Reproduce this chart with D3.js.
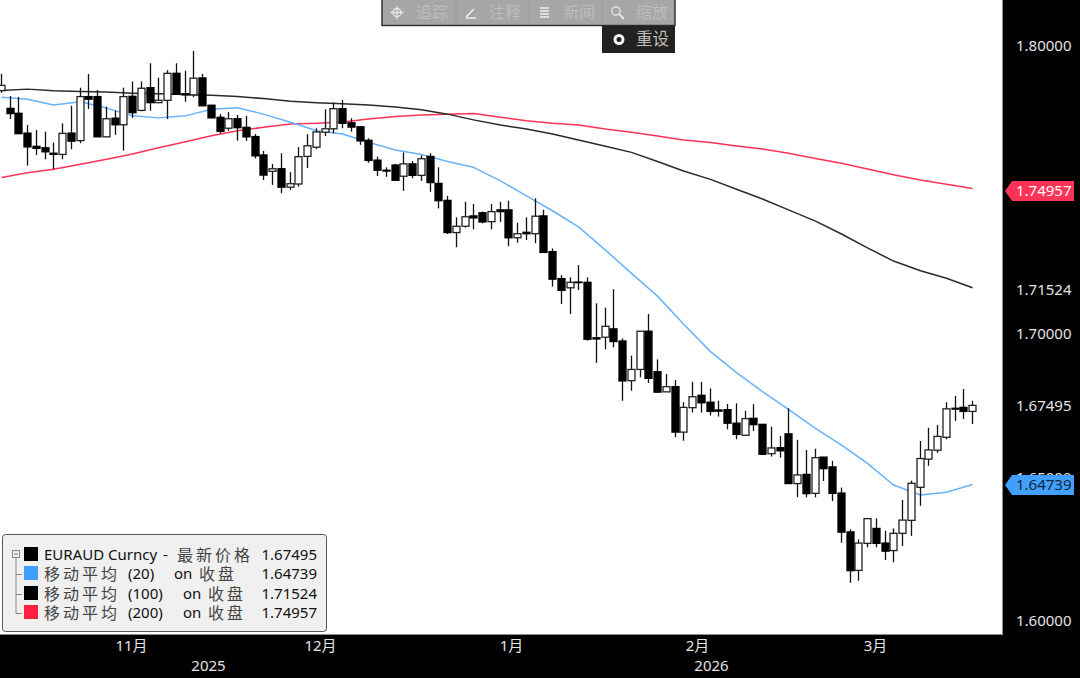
<!DOCTYPE html>
<html>
<head>
<meta charset="utf-8">
<script src="https://cdn.jsdelivr.net/npm/d3@7"></script>
<style>
  body { margin: 0; background: #000; }
  svg { display: block; }
  text { font-family: "Noto Sans", "Noto Sans CJK SC", sans-serif; }
</style>
</head>
<body>
<svg class="chart"></svg>
<script>
const svgWidth = 1080;
const svgHeight = 678;

// daily EURAUD candles, oldest first
const openPx = [
  1.7845, 1.7783, 1.7766, 1.7697, 1.7651, 1.7646, 1.7627, 1.7623, 1.7697, 1.7671,
  1.7824, 1.7824, 1.7684, 1.7749, 1.7726, 1.7825, 1.7776, 1.7855, 1.7803, 1.7811,
  1.7905, 1.7834, 1.7830, 1.7889, 1.7794, 1.7752, 1.7714, 1.7747, 1.7717, 1.7685,
  1.7621, 1.7564, 1.7573, 1.7509, 1.7520, 1.7616, 1.7648, 1.7700, 1.7712, 1.7782,
  1.7733, 1.7719, 1.7672, 1.7603, 1.7568, 1.7586, 1.7547, 1.7590, 1.7550, 1.7616,
  1.7522, 1.7463, 1.7351, 1.7373, 1.7409, 1.7420, 1.7389, 1.7430, 1.7430, 1.7333,
  1.7352, 1.7347, 1.7409, 1.7285, 1.7191, 1.7159, 1.7179, 1.7178, 1.6985, 1.6987,
  1.7016, 1.6974, 1.6836, 1.6875, 1.7008, 1.6867, 1.6797, 1.6815, 1.6657, 1.6742,
  1.6785, 1.6761, 1.6734, 1.6735, 1.6688, 1.6646, 1.6705, 1.6684, 1.6582, 1.6603,
  1.6651, 1.6478, 1.6510, 1.6444, 1.6570, 1.6536, 1.6445, 1.6310, 1.6176, 1.6270,
  1.6322, 1.6271, 1.6245, 1.6305, 1.6350, 1.6465, 1.6563, 1.6594, 1.6639, 1.6740,
  1.6743, 1.6729
];
const highPx = [
  1.7903, 1.7826, 1.7823, 1.7725, 1.7708, 1.7702, 1.7664, 1.7731, 1.7792, 1.7855,
  1.7903, 1.7847, 1.7789, 1.7775, 1.7855, 1.7877, 1.7877, 1.7940, 1.7890, 1.7916,
  1.7940, 1.7914, 1.7983, 1.7903, 1.7795, 1.7763, 1.7770, 1.7760, 1.7757, 1.7694,
  1.7635, 1.7590, 1.7627, 1.7561, 1.7648, 1.7693, 1.7714, 1.7780, 1.7803, 1.7812,
  1.7749, 1.7719, 1.7679, 1.7615, 1.7578, 1.7590, 1.7630, 1.7600, 1.7620, 1.7627,
  1.7578, 1.7479, 1.7404, 1.7458, 1.7450, 1.7424, 1.7450, 1.7458, 1.7462, 1.7385,
  1.7404, 1.7470, 1.7430, 1.7296, 1.7203, 1.7195, 1.7238, 1.7195, 1.7105, 1.7090,
  1.7154, 1.6983, 1.6923, 1.7008, 1.7068, 1.6910, 1.6859, 1.6838, 1.6761, 1.6832,
  1.6832, 1.6809, 1.6766, 1.6755, 1.6757, 1.6731, 1.6754, 1.6685, 1.6676, 1.6643,
  1.6740, 1.6630, 1.6595, 1.6599, 1.6571, 1.6557, 1.6464, 1.6319, 1.6284, 1.6357,
  1.6357, 1.6314, 1.6322, 1.6421, 1.6488, 1.6626, 1.6672, 1.6682, 1.6761, 1.6783,
  1.6807, 1.6766
];
const lowPx = [
  1.7837, 1.7746, 1.7694, 1.7584, 1.7621, 1.7606, 1.7572, 1.7606, 1.7641, 1.7662,
  1.7781, 1.7683, 1.7683, 1.7691, 1.7636, 1.7750, 1.7773, 1.7775, 1.7801, 1.7746,
  1.7832, 1.7806, 1.7822, 1.7792, 1.7749, 1.7696, 1.7705, 1.7671, 1.7670, 1.7609,
  1.7534, 1.7517, 1.7488, 1.7499, 1.7511, 1.7576, 1.7641, 1.7687, 1.7696, 1.7714,
  1.7702, 1.7656, 1.7594, 1.7548, 1.7545, 1.7531, 1.7496, 1.7540, 1.7531, 1.7493,
  1.7435, 1.7346, 1.7300, 1.7368, 1.7362, 1.7383, 1.7362, 1.7388, 1.7304, 1.7316,
  1.7325, 1.7314, 1.7282, 1.7163, 1.7103, 1.7068, 1.7151, 1.6975, 1.6898, 1.6945,
  1.6952, 1.6766, 1.6801, 1.6848, 1.6828, 1.6795, 1.6797, 1.6639, 1.6627, 1.6725,
  1.6725, 1.6715, 1.6711, 1.6667, 1.6632, 1.6645, 1.6661, 1.6577, 1.6572, 1.6568,
  1.6478, 1.6431, 1.6430, 1.6430, 1.6487, 1.6417, 1.6272, 1.6133, 1.6140, 1.6256,
  1.6256, 1.6212, 1.6204, 1.6261, 1.6296, 1.6401, 1.6540, 1.6585, 1.6632, 1.6696,
  1.6703, 1.6685
];
const closePx = [
  1.7863, 1.7765, 1.7695, 1.7649, 1.7644, 1.7632, 1.7623, 1.7696, 1.7669, 1.7824,
  1.7815, 1.7684, 1.7747, 1.7726, 1.7824, 1.7768, 1.7853, 1.7803, 1.7811, 1.7905,
  1.7832, 1.7830, 1.7888, 1.7792, 1.7750, 1.7703, 1.7747, 1.7716, 1.7684, 1.7618,
  1.7551, 1.7573, 1.7509, 1.7521, 1.7615, 1.7653, 1.7701, 1.7712, 1.7782, 1.7731,
  1.7718, 1.7670, 1.7602, 1.7568, 1.7565, 1.7533, 1.7590, 1.7550, 1.7608, 1.7525,
  1.7462, 1.7351, 1.7373, 1.7406, 1.7402, 1.7388, 1.7424, 1.7424, 1.7333, 1.7347,
  1.7347, 1.7408, 1.7282, 1.7189, 1.7150, 1.7178, 1.7177, 1.6980, 1.6981, 1.7025,
  1.6972, 1.6835, 1.6875, 1.7008, 1.6844, 1.6796, 1.6815, 1.6657, 1.6743, 1.6780,
  1.6759, 1.6729, 1.6730, 1.6688, 1.6649, 1.6704, 1.6683, 1.6580, 1.6602, 1.6592,
  1.6478, 1.6508, 1.6443, 1.6568, 1.6530, 1.6444, 1.6309, 1.6175, 1.6271, 1.6356,
  1.6270, 1.6243, 1.6305, 1.6351, 1.6479, 1.6565, 1.6595, 1.6642, 1.6738, 1.6737,
  1.6729, 1.6750
];

// moving averages read every third session
const maIndex = [
  0, 3, 6, 9, 12, 15, 18, 21, 24, 27, 30, 33, 36, 39, 42, 45, 48, 51, 54,
  57, 60, 63, 66, 69, 72, 75, 78, 81, 84, 87, 90, 93, 96, 99, 102, 105, 108, 111
];
const ma20 = [
  1.7822, 1.7815, 1.7795, 1.7806, 1.7784, 1.7757, 1.7750, 1.7757, 1.7780, 1.7785,
  1.7763, 1.7735, 1.7705, 1.7694, 1.7665, 1.7638, 1.7623, 1.7598, 1.7578,
  1.7531, 1.7479, 1.7427, 1.7371, 1.7290, 1.7209, 1.7130, 1.7033, 1.6937, 1.6864,
  1.6798, 1.6736, 1.6670, 1.6612, 1.6548, 1.6473, 1.6438, 1.6448, 1.6475
];
const ma100 = [
  1.7845, 1.7850, 1.7844, 1.7842, 1.7840, 1.7836, 1.7834, 1.7831, 1.7829, 1.7824,
  1.7817, 1.7808, 1.7803, 1.7799, 1.7795, 1.7788, 1.7778, 1.7763, 1.7743,
  1.7725, 1.7711, 1.7694, 1.7673, 1.7651, 1.7630, 1.7598, 1.7565, 1.7536, 1.7502,
  1.7468, 1.7430, 1.7391, 1.7346, 1.7298, 1.7252, 1.7218, 1.7192, 1.7159
];
const ma200 = [
  1.7543, 1.7559, 1.7571, 1.7589, 1.7606, 1.7624, 1.7646, 1.7667, 1.7688, 1.7705,
  1.7717, 1.7729, 1.7731, 1.7736, 1.7746, 1.7755, 1.7760, 1.7763, 1.7765,
  1.7752, 1.7740, 1.7731, 1.7725, 1.7711, 1.7700, 1.7687, 1.7673, 1.7664, 1.7652,
  1.7642, 1.7627, 1.7609, 1.7592, 1.7572, 1.7552, 1.7534, 1.7519, 1.7504
];

const priceTicks = [1.6, 1.65, 1.7, 1.8];
const monthIndex = [14.9, 36.5, 58.3, 79.6, 99.9];
const monthLabels = ["11月", "12月", "1月", "2月", "3月"];
const yearIndex = [23.7, 81.2];
const yearLabels = ["2025", "2026"];

const lastPrice = 1.67495;
const lastMa20 = 1.64739;
const lastMa100 = 1.71524;
const lastMa200 = 1.74957;

const blue = "#66b2ff";
const red = "#ff3355";
const dark = "#2a2a2a";

var margin = { top: 0, right: 77, bottom: 43, left: 0 };
var plotRight = svgWidth - margin.right;
var plotBottom = svgHeight - margin.bottom;

const svg = d3.select(".chart")
  .attr("width", svgWidth)
  .attr("height", svgHeight);

svg.append("rect")
  .attr("width", plotRight)
  .attr("height", plotBottom)
  .attr("fill", "#fff");

svg.append("path")
  .attr("d", `M${plotRight - 0.5},0V${plotBottom - 0.5}H0`)
  .attr("fill", "none")
  .attr("stroke", "#8c8c8c");

// 1.80 sits at y=46 and 1.60 at y=621
var x = d3.scaleLinear().domain([0, openPx.length - 1]).rangeRound([1, 972]);
var y = d3.scaleLinear().domain([1.6, 1.8]).range([621, 46]);

// moving averages go under the candles
var maLine = d3.line()
  .x(function(d, i) { return x(maIndex[i]) + 0.5; })
  .y(function(d) { return y(d); });

[[ma200, red], [ma100, dark], [ma20, blue]].forEach(function(m) {
  svg.append("path")
    .datum(m[0])
    .attr("fill", "none")
    .attr("stroke", m[1])
    .attr("stroke-width", 1.5)
    .attr("stroke-linejoin", "round")
    .attr("d", maLine);
});

// candles
const candle = svg.append("g")
  .selectAll("g")
  .data(openPx.map(function(d, i) {
    return { i: i, o: d, h: highPx[i], l: lowPx[i], c: closePx[i] };
  }))
  .join("g")
    .attr("transform", function(d) { return `translate(${x(d.i) + 0.5},0)`; });

candle.append("line")
  .attr("y1", function(d) { return y(d.h); })
  .attr("y2", function(d) { return y(d.l); })
  .attr("stroke", "#111")
  .attr("stroke-width", 1.3);

candle.append("rect")
  .attr("x", -3.5)
  .attr("width", 7)
  .attr("y", function(d) { return y(Math.max(d.o, d.c)); })
  .attr("height", function(d) { return Math.max(0.6, Math.abs(y(d.o) - y(d.c))); })
  .attr("fill", function(d) { return d.c > d.o ? "#fff" : "#000"; })
  .attr("stroke", function(d) { return d.c > d.o ? "#222" : "#000"; })
  .attr("stroke-width", 1.3);

// price axis
const yAxis = svg.append("g")
  .attr("transform", `translate(${plotRight},0)`)
  .call(d3.axisRight(y).tickValues(priceTicks.concat([lastMa100, lastPrice])).tickFormat(d3.format(".5f")).tickSize(0).tickPadding(13));
yAxis.select(".domain").remove();
yAxis.selectAll("text")
  .attr("font-size", 15)
  .attr("font-family", null)
  .attr("fill", "#e4e4e4");

// last value tags
[[lastMa200, red, "#fff"], [lastMa20, "#41a0ff", "#10243a"]].forEach(function(t) {
  var ty = Math.round(y(t[0]));
  svg.append("path")
    .attr("d", `M1005,${ty}L1012,${ty - 10}H1074V${ty + 10}H1012Z`)
    .attr("fill", t[1]);
  svg.append("text")
    .attr("x", 1016)
    .attr("y", ty)
    .attr("dy", "0.35em")
    .attr("font-size", 15)
    .attr("fill", t[2])
    .text(d3.format(".5f")(t[0]));
});

// time axis, months on the first row and years under them
const monthAxis = svg.append("g")
  .attr("transform", `translate(0,${plotBottom})`)
  .call(d3.axisBottom(x).tickValues(monthIndex)
    .tickFormat(function(d, i) { return monthLabels[i]; }).tickSize(0).tickPadding(5));
const yearAxis = svg.append("g")
  .attr("transform", `translate(0,${plotBottom + 20})`)
  .call(d3.axisBottom(x).tickValues(yearIndex)
    .tickFormat(function(d, i) { return yearLabels[i]; }).tickSize(0).tickPadding(5));
[monthAxis, yearAxis].forEach(function(a) {
  a.select(".domain").remove();
  a.selectAll("text")
    .attr("font-size", 15)
    .attr("font-family", null)
    .attr("fill", "#e4e4e4");
});

// legend
const legend = svg.append("g");
legend.append("rect")
  .attr("x", 2.5).attr("y", 534.5)
  .attr("width", 324).attr("height", 97)
  .attr("rx", 3)
  .attr("fill", "#f0f0f0")
  .attr("stroke", "#555");

legend.append("rect")
  .attr("x", 12.5).attr("y", 550.5)
  .attr("width", 7).attr("height", 7)
  .attr("fill", "#eee").attr("stroke", "#888");
legend.append("path")
  .attr("d", "M14,554H18M16,558V613.5H22M16,574.5H22M16,594.5H22")
  .attr("fill", "none").attr("stroke", "#888");

const legendRows = [
  { y: 555, color: "#000", value: lastPrice, parts: [["EURAUD Curncy", 44], ["-", 163], ["最新价格", 177]] },
  { y: 574, color: "#3f9fff", value: lastMa20, parts: [["移动平均", 44], ["(20)", 128], ["on", 174], ["收盘", 199]] },
  { y: 594, color: "#000", value: lastMa100, parts: [["移动平均", 44], ["(100)", 128], ["on", 183], ["收盘", 208]] },
  { y: 613, color: "#ff1f3f", value: lastMa200, parts: [["移动平均", 44], ["(200)", 128], ["on", 183], ["收盘", 208]] }
];

legendRows.forEach(function(r) {
  legend.append("rect")
    .attr("x", 24).attr("y", r.y - 8)
    .attr("width", 14).attr("height", 14)
    .attr("fill", r.color);
  r.parts.forEach(function(p) {
    var cjk = /[\u4e00-\u9fff]/.test(p[0]);
    legend.append("text")
      .attr("x", p[1])
      .attr("y", r.y)
      .attr("dy", "0.35em")
      .attr("font-size", cjk ? 16 : 15)
      .attr("letter-spacing", cjk ? 3 : 0)
      .attr("fill", cjk ? "#444" : "#111")
      .text(p[0]);
  });
  legend.append("text")
    .attr("x", 317)
    .attr("y", r.y)
    .attr("dy", "0.35em")
    .attr("text-anchor", "end")
    .attr("font-size", 15)
    .attr("fill", "#111")
    .text(d3.format(".5f")(r.value));
});

// toolbar
const toolbar = svg.append("g");
toolbar.append("rect")
  .attr("x", 382).attr("y", -2)
  .attr("width", 293).attr("height", 27.5)
  .attr("fill", "#a6a6a6")
  .attr("stroke", "#2a2a2a")
  .attr("stroke-width", 1.4);
[456, 529, 602].forEach(function(sx) {
  toolbar.append("line")
    .attr("x1", sx).attr("x2", sx)
    .attr("y1", 0).attr("y2", 25)
    .attr("stroke", "#999");
});
[["追踪", 416], ["注释", 489], ["新闻", 563], ["缩放", 636]].forEach(function(b) {
  toolbar.append("text")
    .attr("x", b[1]).attr("y", 12.5)
    .attr("dy", "0.35em")
    .attr("font-size", 16)
    .attr("fill", "#bcbcbc")
    .text(b[0]);
});
// toolbar icons
toolbar.append("path")
  .attr("d", "M397,6V19M390.5,12.5H403.5")
  .attr("stroke", "#e8e8e8").attr("stroke-width", 1.3).attr("fill", "none");
toolbar.append("circle")
  .attr("cx", 397).attr("cy", 12.5).attr("r", 4)
  .attr("stroke", "#e8e8e8").attr("stroke-width", 1.3).attr("fill", "none");
toolbar.append("path")
  .attr("d", "M466,17L474,9M466,18H476")
  .attr("stroke", "#f0f0f0").attr("stroke-width", 1.6).attr("fill", "none");
toolbar.append("path")
  .attr("d", "M540,8H549M540,11H549M540,14H549M540,17H549")
  .attr("stroke", "#f0f0f0").attr("stroke-width", 1.4).attr("fill", "none");
toolbar.append("circle")
  .attr("cx", 616).attr("cy", 11).attr("r", 4.2)
  .attr("stroke", "#e8e8e8").attr("stroke-width", 1.2).attr("fill", "none");
toolbar.append("path")
  .attr("d", "M619,14L624,19")
  .attr("stroke", "#e8e8e8").attr("stroke-width", 1.8);

toolbar.append("rect")
  .attr("x", 602).attr("y", 26)
  .attr("width", 73).attr("height", 27)
  .attr("fill", "#222");
toolbar.append("circle")
  .attr("cx", 619).attr("cy", 39.5).attr("r", 4)
  .attr("fill", "#222")
  .attr("stroke", "#f4f4f4").attr("stroke-width", 3);
toolbar.append("text")
  .attr("x", 636).attr("y", 39.5)
  .attr("dy", "0.35em")
  .attr("font-size", 16.5)
  .attr("fill", "#bdbdbd")
  .text("重设");
</script>
</body>
</html>
